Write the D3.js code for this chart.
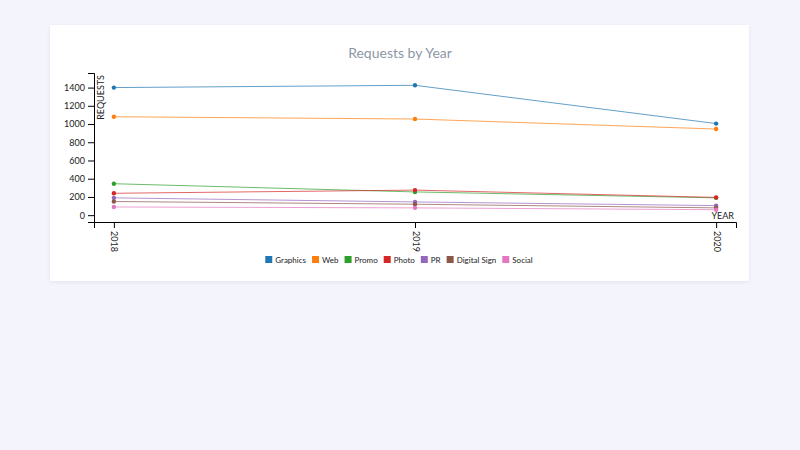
<!DOCTYPE html>
<html>
<head>
<meta charset="utf-8">
<script src="https://cdn.jsdelivr.net/npm/d3@7"></script>
<style>
  body { margin: 0; background: #f4f5fc; }
  .card {
    position: absolute; left: 50px; top: 25px; width: 699px; height: 256px;
    background: #fff; box-shadow: 0 1px 4px rgba(120,130,160,0.15);
  }
  svg { position: absolute; left: 0; top: 0; }
</style>
</head>
<body>
<div class="card"></div>
<div id="chart"></div>
<script>
const years = ["2018", "2019", "2020"]
const seriesNames = ["Graphics", "Web", "Promo", "Photo", "PR", "Digital Sign", "Social"]
const graphics = [1400, 1425, 1005]
const web = [1080, 1055, 945]
const promo = [345, 255, 190]
const photo = [240, 275, 195]
const pr = [190, 145, 105]
const digitalSign = [150, 120, 80]
const social = [90, 80, 60]
const yTicks = [0, 200, 400, 600, 800, 1000, 1200, 1400]

const values = [graphics, web, promo, photo, pr, digitalSign, social]
const series = seriesNames.map((name, i) => ({
  name,
  points: years.map((year, j) => ({ year, value: values[i][j] }))
}))

const width = 800
const height = 450
const font = "Lato, 'Open Sans', sans-serif"

const xScale = d3.scalePoint().domain(years).range([94, 736]).padding(0.066)
const yScale = d3.scaleLinear().domain([-75, 1560]).range([222, 73])
const color = d3.scaleOrdinal().domain(seriesNames).range(d3.schemeCategory10)

const svg = d3
  .create("svg")
  .attr("viewBox", [0, 0, width, height])
  .attr("width", width)
  .attr("height", height)

svg
  .append("text")
  .attr("x", 400)
  .attr("y", 58)
  .attr("text-anchor", "middle")
  .attr("fill", "#8d97a6")
  .style("font", `14px ${font}`)
  .text("Requests by Year")

// axes
const xAxis = d3.axisBottom(xScale)
const gx = svg
  .append("g")
  .attr("transform", "translate(0, 222)")
  .call(xAxis)
gx.selectAll(".tick text")
  .attr("transform", "rotate(90)")
  .attr("text-anchor", "start")
  .attr("x", 9)
  .attr("y", 0)
  .attr("dy", "0.32em")
  .style("font", `9px ${font}`)
  .attr("fill", "#222")

const yAxis = d3.axisLeft(yScale).tickValues(yTicks).tickFormat(d3.format("d"))
const gy = svg
  .append("g")
  .attr("transform", "translate(94, 0)")
  .call(yAxis)
gy.selectAll(".tick text").style("font", `9px ${font}`).attr("fill", "#222")

svg
  .append("text")
  .attr("transform", "translate(104, 75) rotate(-90)")
  .attr("text-anchor", "end")
  .attr("fill", "#222")
  .style("font", `9px ${font}`)
  .text("REQUESTS")

svg
  .append("text")
  .attr("x", 734)
  .attr("y", 219)
  .attr("text-anchor", "end")
  .attr("fill", "#222")
  .style("font", `9px ${font}`)
  .text("YEAR")

// lines
const line = d3
  .line()
  .x(d => xScale(d.year))
  .y(d => yScale(d.value))

const groups = svg
  .append("g")
  .selectAll("g")
  .data(series)
  .join("g")

groups
  .append("path")
  .attr("d", d => line(d.points))
  .attr("fill", "none")
  .attr("stroke", d => color(d.name))
  .attr("stroke-width", 1)
  .attr("stroke-opacity", 0.7)

groups
  .selectAll("circle")
  .data(d => d.points.map(p => ({ ...p, name: d.name })))
  .join("circle")
  .attr("cx", d => xScale(d.year))
  .attr("cy", d => yScale(d.value))
  .attr("r", 2.2)
  .attr("fill", d => color(d.name))

// legend
const legend = svg.append("g").attr("transform", "translate(0, 260)")
const items = legend
  .selectAll("g")
  .data(seriesNames)
  .join("g")
items
  .append("rect")
  .attr("y", -4)
  .attr("width", 7)
  .attr("height", 7)
  .attr("fill", d => color(d))
items
  .append("text")
  .attr("x", 10)
  .attr("dy", "0.32em")
  .attr("fill", "#222")
  .style("font", `8px ${font}`)
  .text(d => d)

document.querySelector("#chart").append(svg.node())

// lay out legend items centred under the chart
let offset = 0
const widths = []
items.each(function () {
  const w = 10 + this.querySelector("text").getComputedTextLength()
  widths.push(w)
})
const gap = 6
const total = d3.sum(widths) + gap * (widths.length - 1)
offset = 399 - total / 2
items.attr("transform", (d, i) => {
  const x = offset
  offset += widths[i] + gap
  return `translate(${x}, 0)`
})
</script>
</body>
</html>
